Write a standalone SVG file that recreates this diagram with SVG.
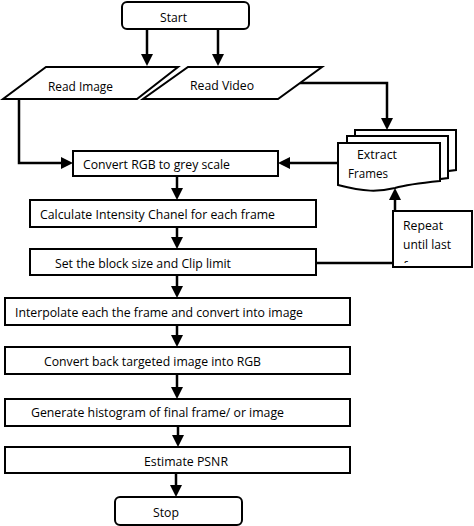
<svg xmlns="http://www.w3.org/2000/svg" width="474" height="526" viewBox="0 0 474 526">
<style>
.b{fill:#fff;stroke:#000;stroke-width:2}
.t{font-family:"Open Sans","Liberation Sans",Arial,sans-serif;font-size:13px;fill:#000}
.c{fill:none;stroke:#000;stroke-width:2.5}
</style>
<defs>
<marker id="ah" viewBox="0 0 12 12" refX="4" refY="6" markerWidth="12" markerHeight="12" markerUnits="userSpaceOnUse" orient="auto">
<path d="M0,0 L12,6 L0,12 z" fill="#000"/>
</marker>
<clipPath id="rc"><rect x="394" y="212" width="78" height="51"/></clipPath>
</defs>
<rect width="474" height="526" fill="#fff"/>
<g id="connectors">
<path class="c" d="M147,29 V58" marker-end="url(#ah)"/>
<path class="c" d="M218,29 V58" marker-end="url(#ah)"/>
<path class="c" d="M300,83 H387 V122" marker-end="url(#ah)"/>
<path class="c" d="M19,100 V163 H65" marker-end="url(#ah)"/>
<path class="c" d="M338,163 H286" marker-end="url(#ah)"/>
<path class="c" d="M177,176 V192" marker-end="url(#ah)"/>
<path class="c" d="M177,227 V241" marker-end="url(#ah)"/>
<path class="c" d="M177,275 V290" marker-end="url(#ah)"/>
<path class="c" d="M177,325 V339" marker-end="url(#ah)"/>
<path class="c" d="M177,374 V391" marker-end="url(#ah)"/>
<path class="c" d="M178,426 V439" marker-end="url(#ah)"/>
<path class="c" d="M176,473 V489" marker-end="url(#ah)"/>
<path class="c" d="M316,263 H395 V196" marker-end="url(#ah)"/>
</g>
<g id="start">
<rect class="b" x="122" y="2" width="127" height="27" rx="5"/>
<text class="t" x="160" y="22" textLength="27" lengthAdjust="spacingAndGlyphs">Start</text>
</g>
<g id="read-image">
<polygon class="b" points="46,67 178,67 137,99 3,99"/>
<text class="t" x="48" y="91" textLength="65" lengthAdjust="spacingAndGlyphs">Read Image</text>
</g>
<g id="read-video">
<polygon class="b" points="188,67 322,67 278,99 143,99"/>
<text class="t" x="190" y="90" textLength="64" lengthAdjust="spacingAndGlyphs">Read Video</text>
</g>
<g id="convert-grey">
<rect class="b" x="73" y="151" width="205" height="25"/>
<text class="t" x="83" y="169" textLength="147" lengthAdjust="spacingAndGlyphs">Convert RGB to grey scale</text>
</g>
<g id="extract-frames">
<path class="b" d="M355,130 H456 V170 L448,171 V137 H355 Z"/>
<path class="b" d="M347,136 H448 V178 L440,179 V143 H347 Z"/>
<path class="b" d="M338,143 H440 V181 C420,183 405,185 395,188 C378,192 365,192 338,185 Z"/>
<text class="t" x="357" y="159" textLength="40" lengthAdjust="spacingAndGlyphs">Extract</text>
<text class="t" x="348" y="178" textLength="40" lengthAdjust="spacingAndGlyphs">Frames</text>
</g>
<g id="calc-intensity">
<rect class="b" x="30" y="200" width="286" height="27"/>
<text class="t" x="40" y="219" textLength="235" lengthAdjust="spacingAndGlyphs">Calculate Intensity Chanel for each frame</text>
</g>
<g id="repeat">
<rect class="b" x="393" y="211" width="79" height="56"/>
<g clip-path="url(#rc)">
<text class="t" x="403" y="230" textLength="40" lengthAdjust="spacingAndGlyphs">Repeat</text>
<text class="t" x="403" y="249" textLength="48" lengthAdjust="spacingAndGlyphs">until last</text>
<text class="t" x="403" y="271">frame</text>
</g>
</g>
<g id="set-block">
<rect class="b" x="30" y="249" width="286" height="26"/>
<text class="t" x="55" y="268" textLength="176" lengthAdjust="spacingAndGlyphs">Set the block size and Clip limit</text>
</g>
<g id="interpolate">
<rect class="b" x="5" y="298" width="345" height="27"/>
<text class="t" x="15" y="317" textLength="288" lengthAdjust="spacingAndGlyphs">Interpolate each the frame and convert into image</text>
</g>
<g id="convert-back">
<rect class="b" x="5" y="347" width="345" height="27"/>
<text class="t" x="44" y="366" textLength="217" lengthAdjust="spacingAndGlyphs">Convert back targeted image into RGB</text>
</g>
<g id="histogram">
<rect class="b" x="5" y="399" width="345" height="27"/>
<text class="t" x="31" y="417" textLength="253" lengthAdjust="spacingAndGlyphs">Generate histogram of final frame/ or image</text>
</g>
<g id="psnr">
<rect class="b" x="5" y="447" width="345" height="26"/>
<text class="t" x="144" y="466" textLength="84" lengthAdjust="spacingAndGlyphs">Estimate PSNR</text>
</g>
<g id="stop">
<rect class="b" x="115" y="497" width="127" height="28" rx="5"/>
<text class="t" x="153" y="517" textLength="26" lengthAdjust="spacingAndGlyphs">Stop</text>
</g>
</svg>
